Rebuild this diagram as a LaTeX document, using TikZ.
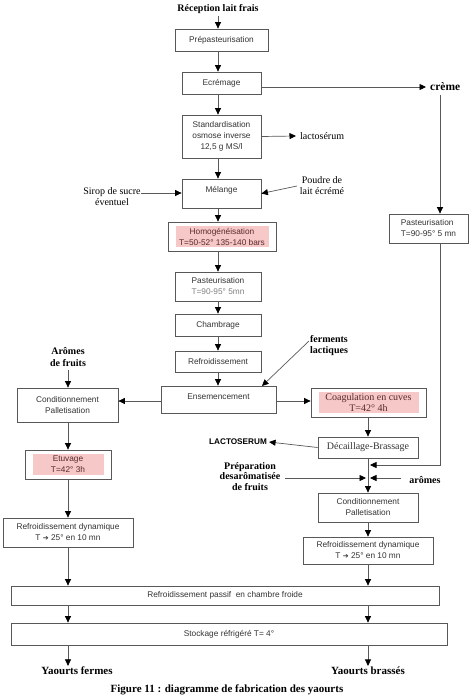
\documentclass[tikz,border=0pt]{standalone}
\usepackage{fontspec}
\setmainfont{Liberation Serif}
\newfontfamily\arialf{Liberation Sans}
\newfontfamily\djv{DejaVu Sans}
\usetikzlibrary{arrows.meta}
\definecolor{pinkfill}{HTML}{F6C8C8}
\definecolor{boxline}{HTML}{585858}
\definecolor{txtgray}{HTML}{333333}
\definecolor{pinktxt}{HTML}{5A2A2A}
\newcommand{\tarrow}{{\djv\fontsize{7}{8}\selectfont ➔}}
\begin{document}
\begin{tikzpicture}[x=1pt,y=-1pt,
  box/.style={draw=boxline, line width=0.8pt, fill=white, align=center, inner sep=1pt,
    font=\arialf\fontsize{8.3}{11}\selectfont, text=txtgray},
  sbox/.style={box, font=\fontsize{10}{11.5}\selectfont},
  pinkbox/.style={path picture={\fill[pinkfill]
      ([shift={(7.5pt,-4pt)}]path picture bounding box.north west) rectangle
      ([shift={(-7.5pt,4pt)}]path picture bounding box.south east);}, text=pinktxt},
  arr/.style={draw=black!65, line width=0.7pt, -{Triangle[width=6pt,length=6.5pt,color=black]}},
  lbl/.style={font=\bfseries\fontsize{10}{11.5}\selectfont, align=center, inner sep=0pt},
  rlbl/.style={font=\fontsize{10}{11}\selectfont, align=center, inner sep=0pt},
]
\useasboundingbox[fill=white] (0,0) rectangle (474,696);
\coordinate (cm) at (218,0);
\coordinate (cl) at (68,0);
\coordinate (cr) at (368,0);
\coordinate (cf) at (440,0);

% labels
\node[lbl] (rec) at (218,9) {Réception lait frais};
\node[lbl, font=\bfseries\fontsize{11.5}{13}\selectfont, anchor=west] (creme) at (430,87) {crème};
\node[rlbl, anchor=west] (lacto) at (300,136) {lactosérum};
\node[rlbl] (sirop) at (112,197) {Sirop de sucre\\éventuel};
\node[rlbl] (poudre) at (322,185.5) {Poudre de\\lait écrémé};
\node[lbl] (ferm) at (329,345.5) {ferments\\lactiques};
\node[lbl, font=\bfseries\fontsize{10}{12}\selectfont] (arf) at (68,357) {Arômes\\de fruits};
\node[inner sep=0pt, font=\arialf\bfseries\fontsize{8.2}{10}\selectfont] (lser) at (238,442) {LACTOSERUM};
\node[lbl, font=\bfseries\fontsize{10}{10.8}\selectfont] (prepd) at (250,476.5) {Préparation\\desarômatisée\\de fruits};
\node[lbl] (arom) at (425,480) {arômes};
\node[lbl, font=\bfseries\fontsize{11}{13}\selectfont] (yf) at (77,671) {Yaourts fermes};
\node[lbl, font=\bfseries\fontsize{11}{13}\selectfont] (yb) at (368,671) {Yaourts brassés};
\node[lbl, font=\bfseries\fontsize{11}{13}\selectfont] (cap) at (227,690) {Figure 11 : diagramme de fabrication des yaourts};

% main column
\node[box, minimum width=93pt, minimum height=22pt] (prep) at (221.5,40) {Prépasteurisation};
\node[box, minimum width=79pt, minimum height=22pt] (ecr) at (221.5,83) {Ecrémage};
\node[box, minimum width=79pt, minimum height=43pt] (std) at (221.5,136.5) {Standardisation\\osmose inverse\\12,5 g MS/l};
\node[box, minimum width=79pt, minimum height=29pt, text depth=9pt] (mel) at (221.5,193.5) {Mélange};
\node[box, pinkbox, minimum width=108pt, minimum height=29pt] (homo) at (222,236.5) {Homogénéisation\\T=50-52° 135-140 bars};
\node[box, minimum width=86pt, minimum height=29pt] (past) at (218,286.5) {Pasteurisation\\{\color{black!50}T=90-95° 5mn}};
\node[box, minimum width=86pt, minimum height=22pt] (chamb) at (218,325) {Chambrage};
\node[box, minimum width=86pt, minimum height=21pt] (refr) at (218,361.5) {Refroidissement};
\node[box, minimum width=115pt, minimum height=27pt, text depth=5pt] (ens) at (218.5,399.5) {Ensemencement};

% right far column
\node[box, align=left, minimum width=79pt, minimum height=29pt] (pastR) at (428.5,228.5) {Pasteurisation\\T=90-95° 5 mn};

% left column
\node[box, minimum width=101pt, minimum height=34pt] (condL) at (67.5,405) {Conditionnement\\Palletisation};
\node[box, pinkbox, minimum width=86pt, minimum height=29pt] (etuv) at (68,464.5) {Etuvage\\T=42° 3h};
\node[box, minimum width=130pt, minimum height=29pt] (refdL) at (68,532.5) {Refroidissement dynamique\\T \tarrow\ 25° en 10 mn};

% right column
\node[sbox, pinkbox, minimum width=115pt, minimum height=29pt] (coag) at (368.5,402.5) {Coagulation en cuves\\T=42° 4h};
\node[sbox, minimum width=100pt, minimum height=21pt] (deca) at (368,447.5) {Décaillage-Brassage};
\node[box, minimum width=100pt, minimum height=29pt] (condR) at (368,507.5) {Conditionnement\\Palletisation};
\node[box, minimum width=130pt, minimum height=27pt] (refdR) at (368,550.5) {Refroidissement dynamique\\T \tarrow\ 25° en 10 mn};

% bottom
\node[box, minimum width=428pt, minimum height=19pt] (passif) at (225,595.5) {Refroidissement passif\ \ en chambre froide};
\node[box, minimum width=436pt, minimum height=22pt] (stock) at (229,634) {Stockage réfrigéré T= 4°};

% free ends
\coordinate (siropend) at (141,193);
\coordinate (poudrestart) at (297,186);
\coordinate (fermstart) at (309,341);
\coordinate (fermend) at (262,386);
\coordinate (j1) at (368,465);
\coordinate (j2) at (368,478);
\coordinate (pdstart) at (285,478);
\coordinate (aromstart) at (401,478);

% main connectors
\draw[arr] ([yshift=-2pt]rec.south -| cm) -- (prep.north -| cm);
\draw[arr] (prep.south -| cm) -- (ecr.north -| cm);
\draw[arr] (ecr.south -| cm) -- (std.north -| cm);
\draw[arr] (std.south -| cm) -- (mel.north -| cm);
\draw[arr] (mel.south -| cm) -- (homo.north -| cm);
\draw[arr] (homo.south -| cm) -- (past.north -| cm);
\draw[arr] (past.south -| cm) -- (chamb.north -| cm);
\draw[arr] (chamb.south -| cm) -- (refr.north -| cm);
\draw[arr] (refr.south -| cm) -- (ens.north -| cm);

\draw[arr] (ecr.east |- creme) -- ([xshift=-4pt]creme.west);
\draw[arr] ([yshift=-4pt]creme.south -| cf) -- (pastR.north -| cf);
\draw[arr] (pastR.south -| cf) |- ([xshift=2pt]j1);
\draw[arr] (std.east) -- ([xshift=-4pt]lacto.west);
\draw[arr] (siropend) -- (mel.west |- siropend);
\draw[arr] (poudrestart) -- (mel.east);
\draw[arr] (fermstart) -- (fermend);

\draw[arr] ([yshift=-1.5pt]ens.west) -- ([yshift=-1.5pt]ens.west -| condL.east);
\draw[arr] ([yshift=-1.5pt]ens.east) -- ([yshift=-1.5pt]ens.east -| coag.west);

% left column connectors
\draw[arr] ([yshift=-3pt]arf.south -| cl) -- (condL.north -| cl);
\draw[arr] (condL.south -| cl) -- (etuv.north -| cl);
\draw[arr] (etuv.south -| cl) -- (refdL.north -| cl);
\draw[arr] (refdL.south -| cl) -- (passif.north -| cl);
\draw[arr] (passif.south -| cl) -- (stock.north -| cl);
\draw[arr] (stock.south -| cl) -- ([yshift=1pt]yf.north -| cl);

% right column connectors
\draw[arr] (coag.south -| cr) -- (deca.north -| cr);
\draw[arr] (deca.west) -- ([xshift=2pt]lser.east);
\draw[arr] (deca.south -| cr) -- (condR.north -| cr);
\draw[arr] (pdstart) -- ([xshift=-2pt]j2);
\draw[arr] (aromstart) -- ([xshift=2pt]j2);
\draw[arr] (condR.south -| cr) -- (refdR.north -| cr);
\draw[arr] (refdR.south -| cr) -- (passif.north -| cr);
\draw[arr] (passif.south -| cr) -- (stock.north -| cr);
\draw[arr] (stock.south -| cr) -- ([yshift=1pt]yb.north -| cr);
\end{tikzpicture}
\end{document}
